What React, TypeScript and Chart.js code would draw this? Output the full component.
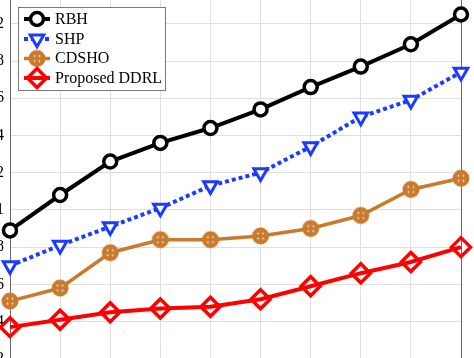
import React, { useEffect, useRef } from 'react';
import { Chart, registerables } from 'chart.js';

Chart.register(...registerables);

// ---- data ----
const categories = ['1', '2', '3', '4', '5', '6', '7', '8', '9', '10'];
const rbhValues = [0.89, 1.08, 1.26, 1.36, 1.44, 1.54, 1.66, 1.77, 1.89, 2.05];
const shpValues = [0.70, 0.81, 0.91, 1.01, 1.13, 1.20, 1.34, 1.50, 1.59, 1.74];
const cdshoValues = [0.51, 0.58, 0.77, 0.84, 0.84, 0.86, 0.90, 0.97, 1.11, 1.17];
const ddrlValues = [0.37, 0.41, 0.45, 0.47, 0.48, 0.52, 0.59, 0.66, 0.72, 0.80];
const seriesNames = ['RBH', 'SHP', 'CDSHO', 'Proposed DDRL'];
const yMin = 0;
const yMax = 2.2;
const yStep = 0.2;

// ---- layout ----
const OFFSET_X = 60;
const OFFSET_Y = 29;
const CANVAS_W = 534;
const CANVAS_H = 445;

const BLACK = '#000000';
const BLUE = '#1b3cff';
const ORANGE = '#c97a2c';
const RED = '#ff0000';
const SERIF = '"Liberation Serif", "DejaVu Serif", serif';

function makeOrangeMarker(): HTMLCanvasElement {
  const c = document.createElement('canvas');
  c.width = 20;
  c.height = 20;
  const g = c.getContext('2d')!;
  g.fillStyle = ORANGE;
  g.beginPath();
  g.arc(10, 10, 8.5, 0, Math.PI * 2);
  g.fill();
  g.fillStyle = 'rgba(255,255,255,0.85)';
  const d = 2.5;
  [[-d, -d], [d, -d], [-d, d], [d, d]].forEach(([dx, dy]) => {
    g.beginPath();
    g.arc(10 + dx, 10 + dy, 0.9, 0, Math.PI * 2);
    g.fill();
  });
  return c;
}

function drawCircle(ctx: CanvasRenderingContext2D, x: number, y: number) {
  ctx.beginPath();
  ctx.arc(x, y, 6.5, 0, Math.PI * 2);
  ctx.fillStyle = '#fff';
  ctx.fill();
  ctx.lineWidth = 3.5;
  ctx.strokeStyle = BLACK;
  ctx.stroke();
}
function drawTriDown(ctx: CanvasRenderingContext2D, x: number, y: number) {
  const r = 7.8;
  ctx.beginPath();
  for (let k = 0; k < 3; k++) {
    const a = Math.PI + (k * 2 * Math.PI) / 3;
    const px = x + Math.sin(a) * r;
    const py = y - Math.cos(a) * r;
    if (k === 0) ctx.moveTo(px, py); else ctx.lineTo(px, py);
  }
  ctx.closePath();
  ctx.fillStyle = '#fff';
  ctx.fill();
  ctx.lineWidth = 3;
  ctx.strokeStyle = BLUE;
  ctx.stroke();
}
function drawDiamond(ctx: CanvasRenderingContext2D, x: number, y: number) {
  const r = 9.5;
  ctx.beginPath();
  ctx.moveTo(x - r, y);
  ctx.lineTo(x, y - r);
  ctx.lineTo(x + r, y);
  ctx.lineTo(x, y + r);
  ctx.closePath();
  ctx.lineWidth = 3.5;
  ctx.strokeStyle = RED;
  ctx.stroke();
}

export default function App() {
  const ref = useRef<HTMLCanvasElement | null>(null);

  useEffect(() => {
    if (!ref.current) return;
    const orangeMarker = makeOrangeMarker();

    const framePlugin = {
      id: 'frame',
      beforeDatasetsDraw(chart: any) {
        const { ctx, chartArea } = chart;
        ctx.save();
        ctx.strokeStyle = '#6a6a6a';
        ctx.lineWidth = 1;
        ctx.strokeRect(
          Math.round(chartArea.left) + 0.5,
          Math.round(chartArea.top) + 0.5,
          Math.round(chartArea.right - chartArea.left),
          Math.round(chartArea.bottom - chartArea.top)
        );
        ctx.restore();
      },
    };

    const legendPlugin = {
      id: 'customLegend',
      afterDraw(chart: any) {
        const ctx: CanvasRenderingContext2D = chart.ctx;
        const ox = OFFSET_X;
        const oy = OFFSET_Y;
        ctx.save();
        ctx.fillStyle = '#ffffff';
        ctx.fillRect(ox + 18.5, oy + 7.5, 147, 83);
        ctx.strokeStyle = '#7a7a7a';
        ctx.lineWidth = 1;
        ctx.strokeRect(ox + 18.5, oy + 7.5, 147, 83);
        const rows = [19, 39, 58.5, 78];
        const colors = [BLACK, BLUE, ORANGE, RED];
        rows.forEach((ry, i) => {
          const y = oy + ry;
          const mx = ox + 37;
          ctx.beginPath();
          ctx.setLineDash(i === 1 ? [4, 3] : []);
          ctx.lineWidth = i === 2 ? 3.5 : 4;
          ctx.strokeStyle = colors[i];
          ctx.moveTo(ox + 24, y);
          ctx.lineTo(ox + 50, y);
          ctx.stroke();
          ctx.setLineDash([]);
          if (i === 0) drawCircle(ctx, mx, y);
          if (i === 1) drawTriDown(ctx, mx, y);
          if (i === 2) ctx.drawImage(orangeMarker, mx - 10, y - 10);
          if (i === 3) drawDiamond(ctx, mx, y);
          ctx.fillStyle = '#000';
          ctx.font = `16px ${SERIF}`;
          ctx.textBaseline = 'middle';
          ctx.textAlign = 'left';
          ctx.fillText(seriesNames[i], ox + 55, y + 0.5);
        });
        ctx.restore();
      },
    };

    const chart = new Chart(ref.current, {
      type: 'line',
      data: {
        labels: categories,
        datasets: [
          {
            label: seriesNames[0],
            data: rbhValues,
            borderColor: BLACK,
            borderWidth: 4,
            pointStyle: 'circle',
            pointRadius: 6.5,
            pointBorderWidth: 3.5,
            pointBorderColor: BLACK,
            pointBackgroundColor: '#ffffff',
            clip: false,
          },
          {
            label: seriesNames[1],
            data: shpValues,
            borderColor: BLUE,
            borderWidth: 4,
            borderDash: [4, 3],
            pointStyle: 'triangle',
            rotation: 180,
            pointRadius: 7.8,
            pointBorderWidth: 3,
            pointBorderColor: BLUE,
            pointBackgroundColor: '#ffffff',
            clip: false,
          },
          {
            label: seriesNames[2],
            data: cdshoValues,
            borderColor: ORANGE,
            borderWidth: 3.5,
            pointStyle: orangeMarker as any,
            pointRadius: 8,
            clip: false,
          },
          {
            label: seriesNames[3],
            data: ddrlValues,
            borderColor: RED,
            borderWidth: 4,
            pointStyle: 'rectRot',
            pointRadius: 9.5,
            pointBorderWidth: 3.5,
            pointBorderColor: RED,
            pointBackgroundColor: 'rgba(0,0,0,0)',
            clip: false,
          },
        ],
      },
      options: {
        animation: false,
        responsive: false,
        maintainAspectRatio: false,
        layout: { padding: { top: 10, right: 11, left: 0, bottom: 0 } },
        plugins: {
          legend: { display: false },
          tooltip: { enabled: false },
        },
        elements: { line: { tension: 0 } },
        scales: {
          x: {
            type: 'category',
            offset: false,
            grid: { color: 'rgb(223,223,223)', lineWidth: 1, drawTicks: false },
            border: { display: false },
            ticks: { display: false },
            afterFit: (scale: any) => { scale.height = 20; },
          },
          y: {
            min: yMin,
            max: yMax,
            ticks: {
              stepSize: yStep,
              color: '#000',
              padding: 6,
              font: { family: SERIF, size: 16 },
              callback: (v: any) => String(Number(Number(v).toFixed(1))),
            },
            grid: { color: 'rgb(223,223,223)', lineWidth: 1, drawTicks: false },
            border: { display: false },
            afterFit: (scale: any) => { scale.width = 70; },
          },
        },
      },
      plugins: [framePlugin, legendPlugin],
    });
    return () => chart.destroy();
  }, []);

  return (
    <div
      style={{
        position: 'fixed',
        left: 0,
        top: 0,
        width: 474,
        height: 358,
        overflow: 'hidden',
        background: '#ffffff',
      }}
    >
      <canvas
        ref={ref}
        width={CANVAS_W}
        height={CANVAS_H}
        style={{
          position: 'absolute',
          left: -OFFSET_X,
          top: -OFFSET_Y,
          width: CANVAS_W,
          height: CANVAS_H,
        }}
      />
    </div>
  );
}
